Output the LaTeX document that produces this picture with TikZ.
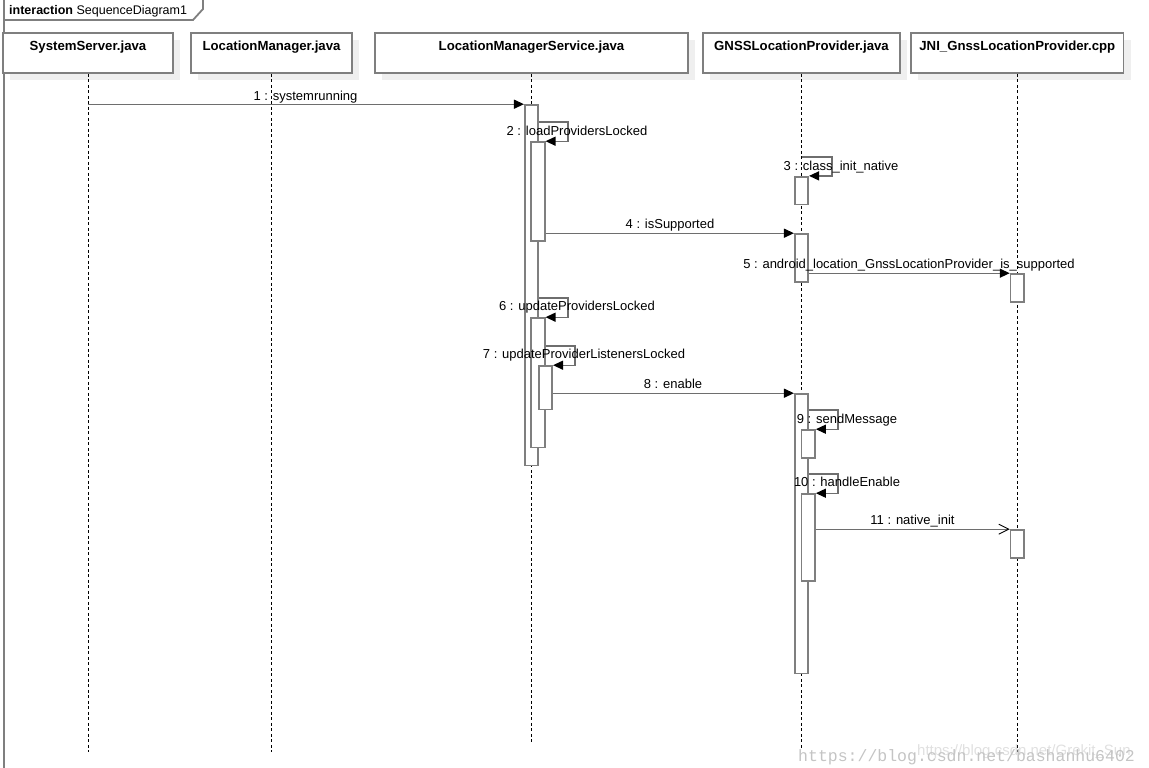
\documentclass[tikz,border=0pt]{standalone}
\usepackage{fontspec}
\setmainfont{Liberation Sans}
\newfontfamily\markfont{Liberation Mono}
\usetikzlibrary{positioning,arrows.meta,shadows}
\definecolor{umlgrey}{HTML}{7F7F7F}
\definecolor{msggrey}{HTML}{6E6E6E}
\definecolor{shadowgrey}{HTML}{EFEFEF}
\definecolor{markgrey}{HTML}{C4C4C4}
\definecolor{markgreyb}{HTML}{E0E0E0}

\begin{document}
\begin{tikzpicture}[x=1pt,y=-1pt,
    font=\fontsize{13}{15}\selectfont,
    head/.style={draw=umlgrey,line width=1.6pt,fill=white,inner sep=0pt,
        text height=18pt,text depth=22pt,font=\fontsize{13.2}{15}\selectfont\bfseries,
        drop shadow={shadow xshift=7pt,shadow yshift=-7pt,fill=shadowgrey,opacity=1}},
    lifeline/.style={black,line width=0.8pt,dash pattern=on 3pt off 2.5pt},
    act/.style={draw=umlgrey,line width=1.6pt,fill=white,inner sep=0pt,minimum width=13.5pt},
    msg/.style={msggrey,line width=1.3pt,-{Triangle[length=10pt,width=9pt,color=black]}},
    async/.style={msggrey,line width=1.3pt,-{Straight Barb[length=10pt,width=10pt,color=black,line width=0.9pt]}},
    lbl/.style={inner sep=0pt,anchor=base},
    frame/.style={umlgrey,line width=1.8pt}]

    \useasboundingbox (0,0) rectangle (1149,768);

    \draw[frame] (4,0) -- (4,768);
    \draw[frame] (203,0) -- (203,9) -- (193,20) -- (4,20);
    \node[anchor=base west,inner sep=0pt,font=\fontsize{12.5}{14}\selectfont] (frm) at (9,14.5) {\textbf{interaction} SequenceDiagram1};

    \node[head,minimum width=170pt] (ss) at (88,53) {SystemServer.java};
    \node[head,minimum width=161pt] (lm) at (271.5,53) {LocationManager.java};
    \node[head,minimum width=313pt] (lms) at (531.5,53) {LocationManagerService.java};
    \node[head,minimum width=197pt] (gnss) at (801.5,53) {GNSSLocationProvider.java};
    \node[head,minimum width=212.5pt] (jni) at (1017.3,53) {JNI\_GnssLocationProvider.cpp};

    \draw[lifeline] (ss.south) -- (ss.south |- 0,752);
    \draw[lifeline] (lm.south) -- (lm.south |- 0,752);
    \draw[lifeline] (lms.south) -- (lms.south |- 0,742);
    \draw[lifeline] (gnss.south) -- (gnss.south |- 0,750);
    \draw[lifeline] (jni.south) -- (jni.south |- 0,752);

    \node[act,minimum height=360.5pt] (lmsA) at (531.5,285.25) {};
    \node[act,minimum height=99pt] (lmsB) at (538,191.5) {};
    \node[act,minimum height=129.5pt] (lmsC) at (538,382.75) {};
    \node[act,minimum height=43.5pt] (lmsD) at (545.5,387.75) {};

    \node[act,minimum height=27.6pt] (gnssA) at (801.5,190.5) {};
    \node[act,minimum height=47.7pt] (gnssB) at (801.5,257.85) {};
    \node[act,minimum height=279.3pt] (gnssC) at (801.5,533.65) {};
    \node[act,minimum height=27.7pt] (gnssD) at (808.3,443.85) {};
    \node[act,minimum height=87pt] (gnssE) at (808.3,537.5) {};

    \node[act,minimum height=27.7pt] (jniA) at (1017.3,287.85) {};
    \node[act,minimum height=27.7pt] (jniB) at (1017.3,543.85) {};

    \coordinate (ssout) at (ss.south |- lmsA.north);
    \draw[msg] (ssout) -- (lmsA.north west);
    \node[lbl] (l1) at (305.5,100) {1 : systemrunning};

    \draw[msg] (lmsA.east |- 0,122) -- (568,122) |- (lmsB.north east);
    \node[lbl] (l2) at (577,135) {2 : loadProvidersLocked};

    \draw[msg] (gnss.south |- 0,157) -- (832,157) |- (gnssA.north east);
    \node[lbl] (l3) at (841,170) {3 : class\_init\_native};

    \draw[msg] (lmsB.east |- gnssB.north) -- (gnssB.north west);
    \node[lbl] (l4) at (670,228) {4 : isSupported};

    \draw[msg] (gnssB.east |- jniA.north) -- (jniA.north west);
    \node[lbl] (l5) at (909,268) {5 : android\_location\_GnssLocationProvider\_is\_supported};

    \draw[msg] (lmsA.east |- 0,298) -- (568,298) |- (lmsC.north east);
    \node[lbl] (l6) at (577,310.5) {6 : updateProvidersLocked};

    \draw[msg] (lmsC.east |- 0,346) -- (575,346) |- (lmsD.north east);
    \node[lbl] (l7) at (584,358.5) {7 : updateProviderListenersLocked};

    \draw[msg] (lmsD.east |- gnssC.north) -- (gnssC.north west);
    \node[lbl] (l8) at (673,388) {8 : enable};

    \draw[msg] (gnssC.east |- 0,410) -- (838,410) |- (gnssD.north east);
    \node[lbl] (l9) at (847,423) {9 : sendMessage};

    \draw[msg] (gnssC.east |- 0,474) -- (838,474) |- (gnssE.north east);
    \node[lbl] (l10) at (847,486.5) {10 : handleEnable};

    \draw[async] (gnssE.east |- jniB.north) -- (jniB.north west);
    \node[lbl] (l11) at (912.5,524) {11 : native\_init};

    \node[anchor=base west,inner sep=0pt,text=markgreyb,font=\fontsize{15}{17}\selectfont] (wmb) at (917,755) {https://blog.csdn.net/Grekit\_Sun};
    \node[anchor=base west,inner sep=0pt,text=markgrey,font=\markfont\fontsize{16.5}{18}\selectfont] (wma) at (798,761) {https://blog.csdn.net/bashanhu6402};

\end{tikzpicture}
\end{document}
